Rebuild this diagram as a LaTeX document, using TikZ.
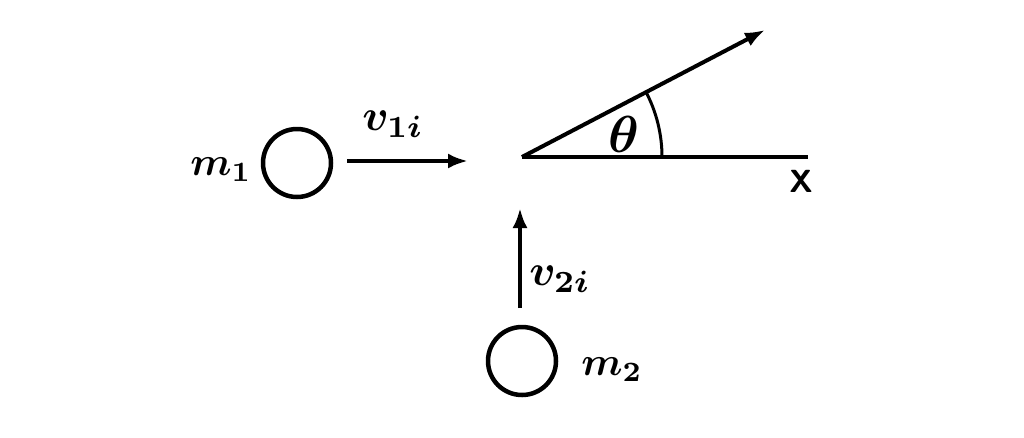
\documentclass[tikz,border=0pt]{standalone}
\usetikzlibrary{arrows.meta}
\begin{document}
\begin{tikzpicture}[x=1pt,y=-1pt,
  mass/.style={circle,draw,line width=4.5pt,minimum size=68pt,inner sep=0pt},
  vec/.style={line width=4pt,-{Latex[length=20pt,width=15pt]}},
  ax/.style={line width=3.5pt},
  lab/.style={scale=4,inner sep=0pt,font=\boldmath}]
\useasboundingbox (0,0) rectangle (1024,437);
\node[mass] (m1) at (297,163) {};
\node[mass] (m2) at (522,361) {};
\node[lab] (m1l) at (221,170) {$m_1$};
\node[lab] (m2l) at (612,370) {$m_2$};
\coordinate (O) at (522,157);
\coordinate (v1s) at (347,161);
\coordinate (v1e) at (468,161);
\coordinate (v2s) at (520,308);
\coordinate (v2e) at (520,208);
\coordinate (xe) at (808,157);
\coordinate (ve) at (765,30);
\draw[vec] (v1s) -- (v1e);
\draw[vec] (v2s) -- (v2e);
\draw[ax] (O) -- (xe);
\draw[vec] (O) -- (ve);
\draw[line width=3pt] ([shift={(0:140)}]O) arc[start angle=0,end angle=-27.8,radius=140];
\node[lab,scale=1.1] (v1l) at (393,124) {$v_{1i}$};
\node[lab,scale=1.1] (v2l) at (560,279) {$v_{2i}$};
\node[lab,scale=1.3] (th) at (624,134) {$\theta$};
\node[lab,scale=0.8] (xl) at (801,181) {\sffamily\bfseries X};
\end{tikzpicture}
\end{document}
